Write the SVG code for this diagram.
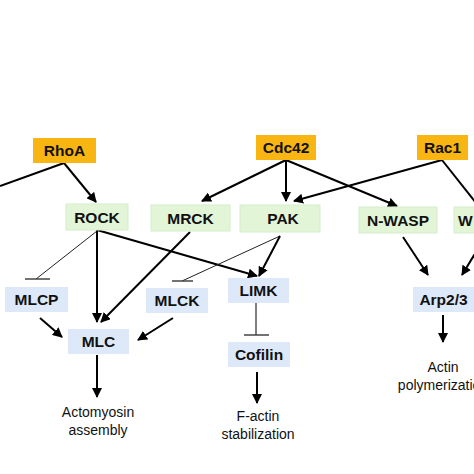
<svg xmlns="http://www.w3.org/2000/svg" width="474" height="474" viewBox="0 0 474 474">
<defs>
<marker id="ah" viewBox="0 0 10 10" refX="9" refY="5" markerWidth="5" markerHeight="5" orient="auto" markerUnits="strokeWidth">
<path d="M0,0 L10,5 L0,10 z" fill="#000"/>
</marker>
</defs>
<style>
.gtp rect{fill:#F9B511;}
.eff rect{fill:#E2F5D7;stroke:#D6EDCB;stroke-width:1;}
.tgt rect{fill:#DDE9F8;}
.lbl{font-family:"Liberation Sans",Arial,sans-serif;font-weight:bold;font-size:15.5px;fill:#111;text-anchor:middle;}
.out{font-family:"Liberation Sans",Arial,sans-serif;font-size:14px;fill:#111;text-anchor:middle;}
.c{stroke:#000;stroke-width:2;fill:none;}
.ca{stroke:#000;stroke-width:2;fill:none;marker-end:url(#ah);}
.t{stroke:#222;stroke-width:1;fill:none;}
.bar{stroke:#444;stroke-width:1.5;fill:none;}
</style>
<rect width="474" height="474" fill="#fff"/>
<g id="connectors">
<line class="c" x1="64" y1="163" x2="0" y2="186"/>
<line class="ca" x1="64" y1="163" x2="96" y2="202"/>
<line class="ca" x1="286" y1="160" x2="202" y2="201"/>
<line class="ca" x1="286" y1="160" x2="286" y2="201"/>
<line class="ca" x1="286" y1="160" x2="397" y2="206"/>
<line class="ca" x1="442" y1="160" x2="294" y2="201"/>
<line class="c" x1="442" y1="160" x2="476" y2="203"/>
<line class="t" x1="97" y1="231" x2="36" y2="279"/>
<line class="bar" x1="25" y1="279" x2="50" y2="279"/>
<line class="ca" x1="97" y1="230" x2="97" y2="322"/>
<line class="ca" x1="190" y1="232" x2="101" y2="322"/>
<line class="ca" x1="97" y1="230" x2="257" y2="276"/>
<line class="t" x1="280" y1="236" x2="182" y2="281"/>
<line class="bar" x1="172" y1="281" x2="193" y2="281"/>
<line class="ca" x1="280" y1="236" x2="259" y2="276"/>
<line class="ca" x1="40" y1="318" x2="62" y2="337"/>
<line class="ca" x1="173" y1="318" x2="138" y2="340"/>
<line class="t" x1="256" y1="303" x2="256" y2="335" style="stroke:#555;stroke-width:1.5"/>
<line class="bar" x1="244" y1="335" x2="269" y2="335"/>
<line class="ca" x1="97" y1="355" x2="97" y2="397"/>
<line class="ca" x1="257" y1="372" x2="257" y2="403"/>
<line class="ca" x1="403" y1="237" x2="428" y2="275"/>
<line class="ca" x1="476" y1="252" x2="462" y2="275"/>
<line class="ca" x1="443" y1="315" x2="443" y2="342"/>
</g>
<g id="RhoA" class="gtp"><rect x="33" y="138" width="63" height="25"/><text class="lbl" x="64.5" y="156">RhoA</text></g>
<g id="Cdc42" class="gtp"><rect x="256" y="135" width="60" height="25"/><text class="lbl" x="286" y="153">Cdc42</text></g>
<g id="Rac1" class="gtp"><rect x="417" y="135" width="51" height="25"/><text class="lbl" x="442.5" y="153">Rac1</text></g>
<g id="ROCK" class="eff"><rect x="66" y="204" width="62" height="26"/><text class="lbl" x="97" y="222.5">ROCK</text></g>
<g id="MRCK" class="eff"><rect x="151" y="205" width="79" height="26"/><text class="lbl" x="190.5" y="223.5">MRCK</text></g>
<g id="PAK" class="eff"><rect x="240" y="205" width="80" height="27"/><text class="lbl" x="283" y="224">PAK</text></g>
<g id="N-WASP" class="eff"><rect x="359" y="207" width="78" height="26"/><text class="lbl" x="398" y="225.5">N-WASP</text></g>
<g id="WAVE" class="eff"><rect x="454" y="207" width="30" height="26"/><text class="lbl" x="458" y="225.5" style="text-anchor:start">W</text></g>
<g id="MLCP" class="tgt"><rect x="5" y="287" width="63" height="25"/><text class="lbl" x="36.5" y="305">MLCP</text></g>
<g id="MLCK" class="tgt"><rect x="146" y="288" width="62" height="25"/><text class="lbl" x="177" y="306">MLCK</text></g>
<g id="LIMK" class="tgt"><rect x="228" y="278" width="61" height="25"/><text class="lbl" x="258.5" y="296">LIMK</text></g>
<g id="MLC" class="tgt"><rect x="68" y="329" width="61" height="25"/><text class="lbl" x="98.5" y="347">MLC</text></g>
<g id="Cofilin" class="tgt"><rect x="228" y="342" width="62" height="25"/><text class="lbl" x="259" y="360">Cofilin</text></g>
<g id="Arp23" class="tgt"><rect x="413" y="287" width="61" height="25"/><text class="lbl" x="443.5" y="305">Arp2/3</text></g>
<g id="outcomes">
<text class="out" x="98" y="417">Actomyosin</text>
<text class="out" x="98" y="435">assembly</text>
<text class="out" x="258" y="421">F-actin</text>
<text class="out" x="258" y="439">stabilization</text>
<text class="out" x="443" y="372">Actin</text>
<text class="out" x="443" y="390">polymerization</text>
</g>
</svg>
